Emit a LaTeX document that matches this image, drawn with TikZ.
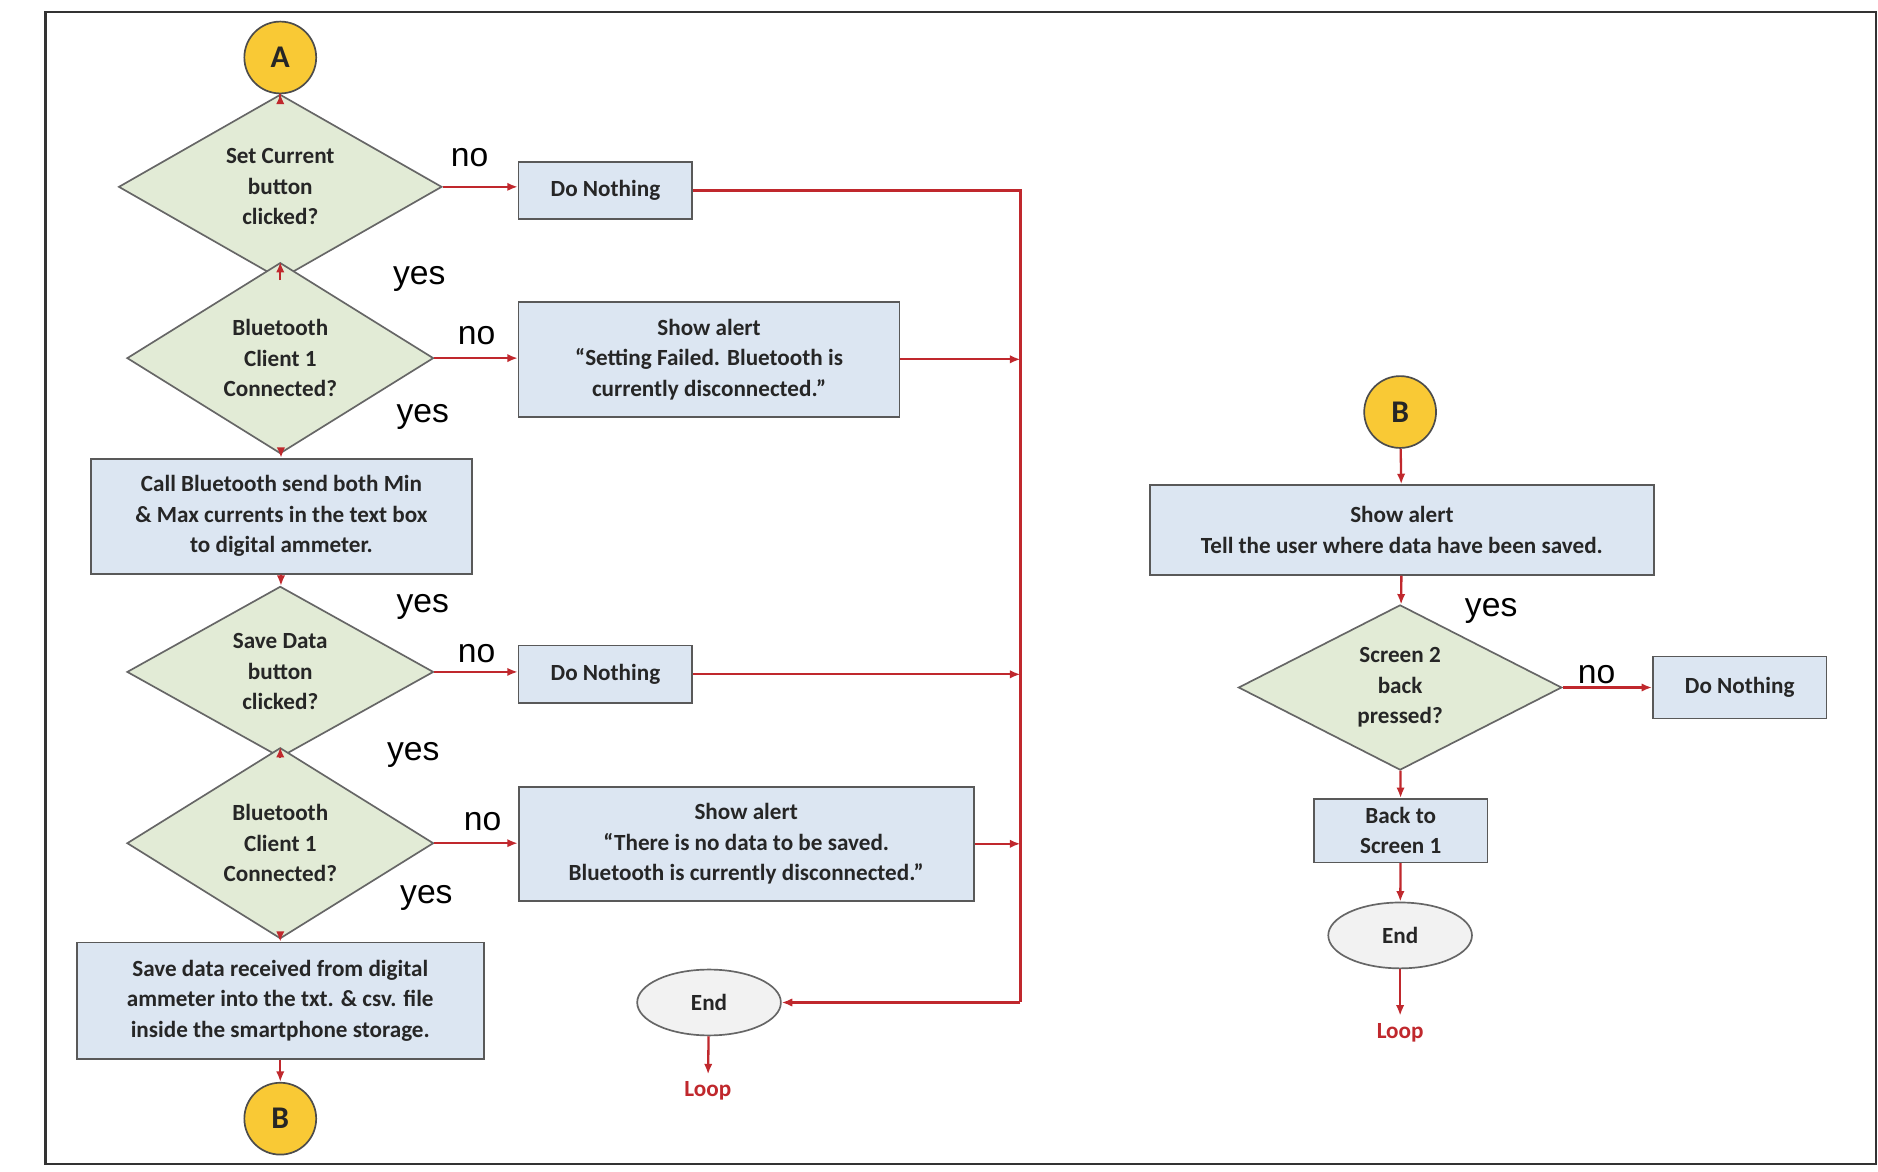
\documentclass[tikz,border=0pt]{standalone}
\usepackage{fontspec}
\setmainfont{Carlito}
\newfontfamily\arialf{Liberation Sans}
\usetikzlibrary{shapes.geometric,arrows.meta}
\definecolor{dgreen}{HTML}{E2EBD6}
\definecolor{lblue}{HTML}{DCE6F2}
\definecolor{ared}{HTML}{C0282D}
\definecolor{yel}{HTML}{F9C935}
\begin{document}
\begin{tikzpicture}[x=0.02cm,y=-0.02cm,
  txt/.style={font=\bfseries\fontsize{11}{14.5}\selectfont,text=black!85,align=center},
  dec/.style={txt,diamond,draw=black!60,fill=dgreen,line width=0.8pt,inner sep=0pt},
  box/.style={txt,rectangle,draw=black!65,fill=lblue,line width=0.8pt,inner sep=1pt},
  conn/.style={txt,circle,draw=black!70,fill=yel,line width=0.8pt,minimum width=1.2cm,minimum height=1.1cm,inner sep=0pt,font=\bfseries\fontsize{15}{15}\selectfont},
  term/.style={txt,ellipse,draw=black!60,fill=black!5,line width=0.8pt,minimum width=2.4cm,minimum height=1.1cm,inner sep=0pt},
  lab/.style={font=\arialf\fontsize{16}{16}\selectfont},
  loop/.style={font=\bfseries\fontsize{11}{11}\selectfont,text=ared},
  arr/.style={draw=ared,line width=1.1pt,-{Latex[length=5pt,width=4pt]}},
  ln/.style={draw=ared,line width=1.1pt}]
\useasboundingbox (0,0) rectangle (1568,978);
\fill[white] (0,0) rectangle (1568,978);
\draw[line width=1pt, black!80] (38,10) rectangle (1566,972);

% left column
\node[conn] (A) at (234,48) {A};
\node[dec,minimum width=5.4cm,minimum height=2.32cm] (d1) at (234,156) {Set Current\\button\\clicked?};
\node[box,minimum width=2.9cm,minimum height=0.96cm] (n1) at (505.5,159) {Do Nothing};
\node[dec,minimum width=5.12cm,minimum height=2.4cm] (d2) at (234,299) {Bluetooth\\Client 1\\Connected?};
\node[box,minimum width=6.36cm,minimum height=1.92cm] (s1) at (592,300) {Show alert\\``Setting Failed. Bluetooth is\\currently disconnected.''};
\node[box,minimum width=6.36cm,minimum height=1.92cm] (call) at (235,431) {Call Bluetooth send both Min\\\& Max currents in the text box\\to digital ammeter.};
\node[dec,minimum width=5.12cm,minimum height=2.4cm] (d3) at (234,561) {Save Data\\button\\clicked?};
\node[box,minimum width=2.9cm,minimum height=0.96cm] (n2) at (505.5,563) {Do Nothing};
\node[dec,minimum width=5.12cm,minimum height=2.4cm] (d4) at (234,704) {Bluetooth\\Client 1\\Connected?};
\node[box,minimum width=7.6cm,minimum height=1.9cm] (s2) at (623,704.5) {Show alert\\``There is no data to be saved.\\Bluetooth is currently disconnected.''};
\node[box,minimum width=6.8cm,minimum height=1.94cm] (save) at (234,835.5) {Save data received from digital\\ammeter into the txt. \& csv. file\\inside the smartphone storage.};
\node[conn] (B1) at (234,934) {B};
\node[term] (end1) at (592,837) {End};
\node[loop] (loop1) at (591,911) {Loop};

\coordinate (c0) at (852,159);
\coordinate (c1) at (852,300);
\coordinate (c2) at (852,563);
\coordinate (c3) at (852,704.5);
\coordinate (c4) at (852,837);

\draw[arr] (A) -- (d1);
\draw[arr] (d1) -- (d2);
\draw[arr] (d2) -- (call);
\draw[arr] (call) -- (d3);
\draw[arr] (d3) -- (d4);
\draw[arr] (d4) -- (save);
\draw[arr] (save) -- (B1);
\draw[arr] (d1.east) -- (n1.west |- d1.east);
\draw[arr] (d2.east) -- (s1.west |- d2.east);
\draw[arr] (d3.east) -- (n2.west |- d3.east);
\draw[arr] (d4.east) -- (s2.west |- d4.east);
\draw[ln] (n1.east) -- (c0) -- (c4);
\draw[arr] (s1.east) -- (c1);
\draw[arr] (n2.east) -- (c2);
\draw[arr] (s2.east) -- (c3);
\draw[arr] (c4) -- (end1);
\draw[arr] (end1) -- (loop1);

\node[lab] at (392,132) {no};
\node[lab] at (350,233) {yes};
\node[lab] at (398,280) {no};
\node[lab] at (353,348) {yes};
\node[lab] at (353,507) {yes};
\node[lab] at (398,546) {no};
\node[lab] at (345,630) {yes};
\node[lab] at (403,686) {no};
\node[lab] at (356,750) {yes};

% right column
\node[conn] (B2) at (1169,344) {B};
\node[box,minimum width=8.42cm,minimum height=1.5cm] (s3) at (1170.5,442.5) {Show alert\\Tell the user where data have been saved.};
\node[dec,minimum width=5.4cm,minimum height=2.4cm] (d5) at (1169,574) {Screen 2\\back\\pressed?};
\node[box,minimum width=2.9cm,minimum height=1.04cm] (n3) at (1452.5,574) {Do Nothing};
\node[box,minimum width=2.9cm,minimum height=1.06cm] (back) at (1169.5,693.5) {Back to\\Screen 1};
\node[term] (end2) at (1169,781) {End};
\node[loop] (loop2) at (1169,862) {Loop};
\draw[arr] (B2) -- (s3);
\draw[arr] (s3) -- (d5);
\draw[arr] (d5) -- (n3);
\draw[arr] (d5) -- (back);
\draw[arr] (back) -- (end2);
\draw[arr] (end2) -- (loop2);
\node[lab] at (1245,510) {yes};
\node[lab] at (1333,563) {no};
\end{tikzpicture}
\end{document}
